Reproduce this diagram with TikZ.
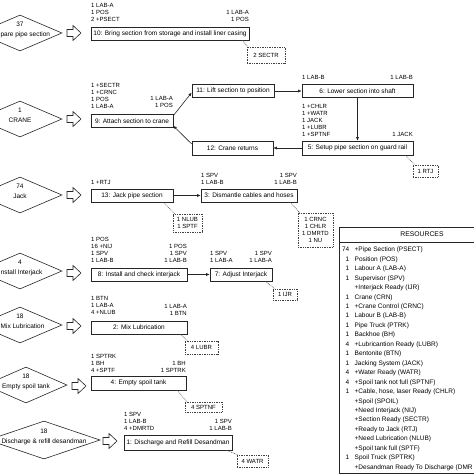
\documentclass[tikz,border=0pt]{standalone}
\usepackage{fontspec}
\setmainfont{Liberation Sans}
\usetikzlibrary{shapes.geometric,arrows.meta,calc}
\begin{document}
\begin{tikzpicture}[x=1pt,y=-1pt,
  ln/.style={draw=black!85,line width=0.6pt},
  act/.style={ln,fill=white,inner sep=0pt,font=\fontsize{6.5}{7.5}\selectfont},
  lbl/.style={inner sep=0pt,font=\fontsize{6}{7}\selectfont},
  lblL/.style={lbl,anchor=south west,align=left},
  lblR/.style={lbl,anchor=south east,align=right},
  resbox/.style={draw=black!75,line width=0.6pt,dash pattern=on 0.8pt off 0.9pt,inner sep=0pt,align=center,font=\fontsize{6}{7}\selectfont},
  dia/.style={ln,diamond,inner sep=0pt,fill=white},
  dtxt/.style={inner sep=0pt,font=\fontsize{6.5}{8}\selectfont},
  dnum/.style={dtxt,anchor=base},
  dlab/.style={dtxt,anchor=base},
  dlabL/.style={dtxt,anchor=base west},
  flow/.style={ln,-{Latex[length=3.5pt,width=3pt]}},
  dotl/.style={draw=black!70,line width=0.6pt,dash pattern=on 0.8pt off 0.9pt},
  blk/.style={ln,fill=white},
  item/.style={inner sep=0pt,font=\fontsize{6.5}{7.5}\selectfont},
  blockarrow/.pic={\path[blk] (0,-3.5) -- (6,-3.5) -- (6,-7.5) -- (14,0) -- (6,7.5) -- (6,3.5) -- (0,3.5) -- cycle;}
]
\useasboundingbox (0,0) rectangle (474,474);

% ---------- diamonds ----------
\node[dia,minimum width=84pt,minimum height=36pt] (d1) at (20,33) {};
\node[dnum] (d1n) at (20,26.3) {37};
\node[dlabL] (d1t) at (0.4,36.3) {pare pipe section};
\node[dia,minimum width=84pt,minimum height=36pt] (d2) at (20,119) {};
\node[dnum] (d2n) at (20,112.3) {1};
\node[dlab] (d2t) at (20,122.3) {CRANE};
\node[dia,minimum width=84pt,minimum height=36pt] (d3) at (20,195) {};
\node[dnum] (d3n) at (20,188.3) {74};
\node[dlab] (d3t) at (20,198.3) {Jack};
\node[dia,minimum width=84pt,minimum height=36pt] (d4) at (20,271) {};
\node[dnum] (d4n) at (20,264.3) {4};
\node[dlabL] (d4t) at (0.6,274.3) {nstall Interjack};
\node[dia,minimum width=84pt,minimum height=36pt] (d5) at (20,325) {};
\node[dnum] (d5n) at (20,318.3) {18};
\node[dlabL] (d5t) at (0.5,328.3) {Mix Lubrication};
\node[dia,minimum width=82pt,minimum height=36pt] (d6) at (26,385) {};
\node[dnum] (d6n) at (26,378.3) {18};
\node[dlab] (d6t) at (26,388.3) {Empty spoil tank};
\node[dia,minimum width=112pt,minimum height=38pt] (d7) at (44,440) {};
\node[dnum] (d7n) at (44,433.3) {18};
\node[dlab] (d7t) at (44,443.3) {Discharge \& refill desandman};

% ---------- block arrows ----------
\pic at (67,33) {blockarrow};
\pic at (67,119) {blockarrow};
\pic at (67,195) {blockarrow};
\pic at (67,273) {blockarrow};
\pic at (67,326) {blockarrow};
\pic at (72,386) {blockarrow};
\pic at (103,441) {blockarrow};

% ---------- activity boxes ----------
\node[act,minimum width=158pt,minimum height=13pt] (b10) at (170,33.5) {10: Bring section from storage and install liner casing};
\node[act,minimum width=82pt,minimum height=13pt] (b9) at (132,121) {9: Attach section to crane};
\node[act,minimum width=82pt,minimum height=13pt] (b11) at (233,91) {11: Lift section to position};
\node[act,minimum width=111pt,minimum height=13pt] (b6) at (357.5,91) {6: Lower section into shaft};
\node[act,minimum width=81pt,minimum height=14pt] (b12) at (232.5,148) {12: Crane returns};
\node[act,minimum width=111pt,minimum height=14pt] (b5) at (357.5,148) {5: Setup pipe section on guard rail};
\node[act,minimum width=82pt,minimum height=13pt] (b13) at (132,195.5) {13: Jack pipe section};
\node[act,minimum width=96pt,minimum height=13pt] (b3) at (249,195.5) {3: Dismantle cables and hoses};
\node[act,minimum width=96pt,minimum height=13pt] (b8) at (139,274.5) {8: Install and check interjack};
\node[act,minimum width=62pt,minimum height=13pt] (b7) at (241,274.5) {7: Adjust Interjack};
\node[act,minimum width=96pt,minimum height=13pt] (b2) at (139,327.5) {2: Mix Lubrication};
\node[act,minimum width=95pt,minimum height=14pt] (b4) at (138.5,383) {4: Empty spoil tank};
\node[act,minimum width=108pt,minimum height=15pt] (b1) at (178,442.5) {1: Discharge and Refill Desandman};

% ---------- resource labels ----------
\node[lblL] (b10l) at (91,21.7) {1 LAB-A\\1 POS\\2 +PSECT};
\node[lblR] (b10r) at (249,21.7) {1 LAB-A\\1 POS};
\node[lblL] (b9l) at (91,108.2) {1 +SECTR\\1 +CRNC\\1 POS\\1 LAB-A};
\node[lblR] (b9r) at (173,108.2) {1 LAB-A\\1 POS};
\node[lblL] (b6l) at (302,79.2) {1 LAB-B};
\node[lblR] (b6r) at (413,79.2) {1 LAB-B};
\node[lblL] (b5l) at (302,137.2) {1 +CHLR\\1 +WATR\\1 JACK\\1 +LUBR\\1 +SPTNF};
\node[lblR] (b5r) at (413,137.2) {1 JACK};
\node[lblL] (b13l) at (91,185.2) {1 +RTJ};
\node[lblL] (b3l) at (201,184.2) {1 SPV\\1 LAB-B};
\node[lblR] (b3r) at (297,184.2) {1 SPV\\1 LAB-B};
\node[lblL] (b8l) at (91,262.2) {1 POS\\16 +NIJ\\1 SPV\\1 LAB-B};
\node[lblR] (b8r) at (187,262.2) {1 POS\\1 SPV\\1 LAB-B};
\node[lblL] (b7l) at (210,262.2) {1 SPV\\1 LAB-A};
\node[lblR] (b7r) at (272,262.2) {1 SPV\\1 LAB-A};
\node[lblL] (b2l) at (91,315.2) {1 BTN\\1 LAB-A\\4 +NLUB};
\node[lblR] (b2r) at (187,315.2) {1 LAB-A\\1 BTN};
\node[lblL] (b4l) at (91,373.2) {1 SPTRK\\1 BH\\4 +SPTF};
\node[lblR] (b4r) at (186,373.2) {1 BH\\1 SPTRK};
\node[lblL] (b1l) at (124,430.2) {1 SPV\\1 LAB-B\\4 +DMRTD};
\node[lblR] (b1r) at (232,430.2) {1 SPV\\1 LAB-B};

% ---------- produced resources (dotted boxes) ----------
\node[resbox,minimum width=38pt,minimum height=16pt] (s10) at (266,55) {2 SECTR};
\node[resbox,minimum width=25pt,minimum height=12pt] (s5) at (425.5,171) {1 RTJ};
\node[resbox,minimum width=29pt,minimum height=18pt] (s13) at (187.5,223) {1 NLUB\\1 SPTF};
\node[resbox,minimum width=35pt,minimum height=34pt] (s3) at (315.5,230) {1 CRNC\\1 CHLR\\1 DMRTD\\1 NU};
\node[resbox,minimum width=24pt,minimum height=11pt] (s7) at (285,294.5) {1 IJR};
\node[resbox,minimum width=33pt,minimum height=13pt] (s2) at (201.5,347.5) {4 LUBR};
\node[resbox,minimum width=37pt,minimum height=10pt] (s4) at (203.5,407) {4 SPTNF};
\node[resbox,minimum width=31pt,minimum height=12pt] (s1) at (252.5,461) {4 WATR};

% ---------- dotted links ----------
\draw[dotl] ($(b10.south east)+(-7,0)$) -- ($(s10.north west)+(1,0)$);
\draw[dotl] ($(b5.south east)+(-8,0)$) -- ($(s5.north west)+(2,0)$);
\draw[dotl] ($(b13.south east)+(-10,0)$) -- ($(s13.north west)+(2,0)$);
\draw[dotl] ($(b3.south east)+(-7,0)$) -- ($(s3.north west)+(2,0)$);
\draw[dotl] ($(b7.south east)+(-7,0)$) -- ($(s7.north west)+(2,0)$);
\draw[dotl] ($(b2.south east)+(-7,0)$) -- ($(s2.north west)+(3,0)$);
\draw[dotl] ($(b4.south east)+(-9,0)$) -- ($(s4.north west)+(2,0)$);
\draw[dotl] ($(b1.south east)+(-6,0)$) -- ($(s1.north west)+(1,0)$);

% ---------- flow arrows ----------
\draw[flow] ($(b9.north east)+(0,1.5)$) -- ($(b11.west)+(0,1.5)$);
\draw[flow] ($(b12.west)+(0,-4)$) -- ($(b9.south east)+(0,-2)$);
\draw[flow] (b11.east) -- (b6.west);
\draw[flow] (b6.south) -- (b5.north);
\draw[flow] (b5.west) -- (b12.east);
\draw[flow] (b13.east) -- (b3.west);
\draw[flow] (b8.east) -- (b7.west);

% ---------- resources table ----------
\node[ln,anchor=north west,minimum width=139pt,minimum height=246pt,inner sep=0pt] (rbox) at (339,227) {};
\coordinate (rdl) at (339,242);
\coordinate (rdr) at (478,242);
\draw[ln] (rdl) -- (rdr);
\node[item,font=\fontsize{6.8}{8}\selectfont] (rhead) at (422,234.5) {RESOURCES};
\foreach \n/\t [count=\i from 0] in {
  74/+Pipe Section (PSECT),
  1/Position (POS),
  1/Labour A (LAB-A),
  1/Supervisor (SPV),
  /+Interjack Ready (IJR),
  1/Crane (CRN),
  1/+Crane Control (CRNC),
  1/Labour B (LAB-B),
  1/Pipe Truck (PTRK),
  1/Backhoe (BH),
  4/+Lubricantion Ready (LUBR),
  1/Bentonite (BTN),
  1/Jacking System (JACK),
  4/+Water Ready (WATR),
  4/+Spoil tank not full (SPTNF),
  1/{+Cable, hose, laser Ready (CHLR)},
  /+Spoil (SPOIL),
  /+Need Interjack (NIJ),
  /+Section Ready (SECTR),
  /+Ready to Jack (RTJ),
  /+Need Lubrication (NLUB),
  /+Spoil tank full (SPTF),
  1/Spoil Truck (SPTRK),
  /+Desandman Ready To Discharge (DMR}
{
  \node[item,anchor=base east] (rn\i) at (349.5,{251.8+9.45*\i}) {\n};
  \node[item,anchor=base west] (rt\i) at (354.5,{251.8+9.45*\i}) {\t};
}
\end{tikzpicture}
\end{document}
